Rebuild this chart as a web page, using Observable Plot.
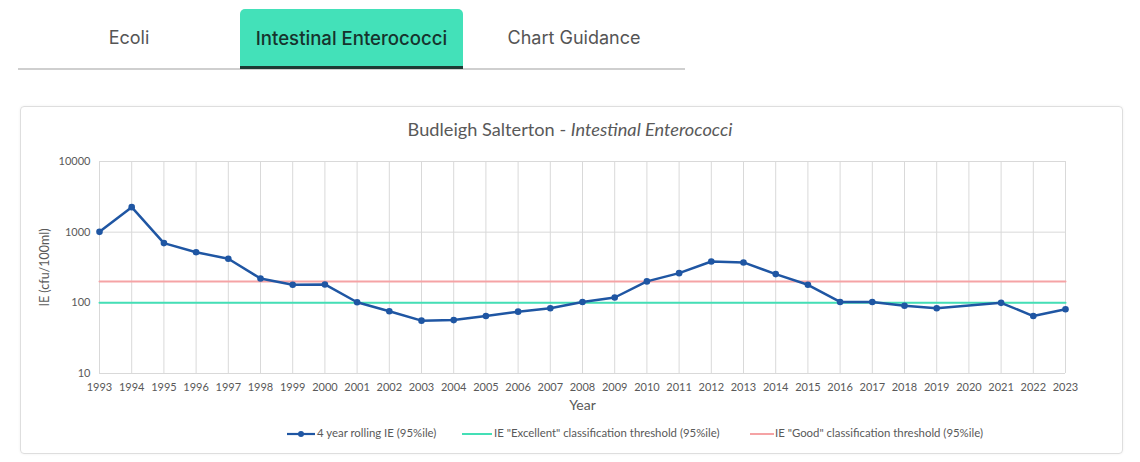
<!DOCTYPE html>
<html>
<head>
<meta charset="utf-8">
<script src="https://cdn.jsdelivr.net/npm/d3@7"></script>
<script src="https://cdn.jsdelivr.net/npm/@observablehq/plot@0.6"></script>
<style>
  html, body { margin: 0; padding: 0; background: #fff; width: 1140px; height: 462px; overflow: hidden; }
  body { position: relative; font-family: Inter, "Noto Sans", sans-serif; }
  .tabs { position: absolute; left: 18px; top: 9px; width: 667px; height: 59px; border-bottom: 2px solid #cfcfcf; }
  .tab { position: absolute; top: 0; height: 59px; line-height: 58px; font-size: 18px; color: #555; text-align: center; }
  .tab.active { background: #43e1b9; color: #16332d; font-weight: 500; font-size: 18.6px; border-radius: 5px 5px 0 0; border-bottom: 3px solid #1d3a34; height: 57px; }
  .card { position: absolute; left: 20px; top: 106px; width: 1101px; height: 346px; border: 1px solid #dedede; border-radius: 4px; box-shadow: 0 0 3px rgba(0,0,0,0.06); }
  .title { position: absolute; left: 0; top: 118px; width: 1140px; text-align: center; font-family: Lato, "Liberation Sans", sans-serif; font-size: 18.2px; color: #595959; }
  #chart { position: absolute; left: 0; top: 140px; }
  .legend { position: absolute; top: 426px; left: 0; width: 1140px; font-family: Lato, "Liberation Sans", sans-serif; font-size: 11.4px; color: #595959; }
  .legend span { position: absolute; top: 0; white-space: nowrap; }
  .legend svg { position: absolute; top: 4px; }
</style>
</head>
<body>
<div class="tabs">
  <div class="tab" style="left:66px;width:90px;">Ecoli</div>
  <div class="tab active" style="left:222px;width:223px;">Intestinal Enterococci</div>
  <div class="tab" style="left:462px;width:188px;">Chart Guidance</div>
</div>
<div class="card"></div>
<div class="title">Budleigh Salterton - <i>Intestinal Enterococci</i></div>
<div id="chart"></div>
<div class="legend">
  <svg width="28" height="8" style="left:287px"><line x1="0" y1="4" x2="28" y2="4" stroke="#1f56a3" stroke-width="2.2"/><circle cx="14" cy="4" r="3" fill="#1f56a3"/></svg>
  <span style="left:317px">4 year rolling IE (95%ile)</span>
  <svg width="30" height="8" style="left:462px"><line x1="0" y1="4" x2="30" y2="4" stroke="#44dfb6" stroke-width="2"/></svg>
  <span style="left:494px">IE "Excellent" classification threshold (95%ile)</span>
  <svg width="24" height="8" style="left:750px"><line x1="0" y1="4" x2="24" y2="4" stroke="#f5a3a5" stroke-width="2"/></svg>
  <span style="left:775px">IE "Good" classification threshold (95%ile)</span>
</div>
<script>
// Bathing water site: 4-year rolling 95th percentile of Intestinal Enterococci (cfu/100ml)
const years = [1993, 1994, 1995, 1996, 1997, 1998, 1999, 2000, 2001, 2002,
               2003, 2004, 2005, 2006, 2007, 2008, 2009, 2010, 2011, 2012,
               2013, 2014, 2015, 2016, 2017, 2018, 2019, 2020, 2021, 2022, 2023];
const rollingIE = [1010, 2260, 700, 521, 420, 221, 180, 182, 102, 76,
                   56, 57, 65, 75, 84, 103, 119, 201, 263, 385,
                   373, 255, 180, 103, 103, 91, 84, null, 100, 65, 81];
const excellentThreshold = 100;
const goodThreshold = 200;
const yTicks = [10, 100, 1000, 10000];

const series = years.map((year, i) => ({year, value: rollingIE[i]})).filter(d => d.value != null);
const thresholds = years.map(year => ({year, excellent: excellentThreshold, good: goodThreshold}));

const blue = "#1f56a3", teal = "#44dfb6", pink = "#f5a3a5", grid = "#d9d9d9", text = "#595959";

const chart = Plot.plot({
  width: 1140,
  height: 280,
  marginTop: 21,
  marginBottom: 47,
  marginLeft: 99,
  marginRight: 75,
  style: {fontFamily: "Lato, 'Liberation Sans', sans-serif", fontSize: "11px", color: text, background: "transparent"},
  x: {domain: [1993, 2023], ticks: years, tickFormat: d3.format("d"), tickSize: 0, tickPadding: 10, label: null},
  y: {type: "log", domain: [10, 10000], ticks: yTicks, tickFormat: d3.format("d"), tickSize: 0, tickPadding: 9, label: null},
  marks: [
    Plot.gridX(years, {stroke: grid, strokeOpacity: 1, strokeWidth: 1}),
    Plot.gridY(yTicks, {stroke: grid, strokeOpacity: 1, strokeWidth: 1}),
    Plot.axisX({ticks: years, tickFormat: d3.format("d"), tickSize: 0, tickPadding: 10, fill: text, label: null}),
    Plot.axisY({ticks: yTicks, tickFormat: d3.format("d"), tickSize: 0, tickPadding: 9, fill: text, label: null}),
    Plot.text(["Year"], {frameAnchor: "bottom", dy: 36, fontSize: 14, fill: text}),
    Plot.text(["IE (cfu/100ml)"], {frameAnchor: "left", textAnchor: "middle", dx: -55, rotate: -90, fontSize: 12.5, fill: text}),
    Plot.lineY(thresholds, {x: "year", y: "excellent", stroke: teal, strokeWidth: 2}),
    Plot.lineY(thresholds, {x: "year", y: "good", stroke: pink, strokeWidth: 2}),
    Plot.lineY(series, {x: "year", y: "value", stroke: blue, strokeWidth: 2.5}),
    Plot.dot(series, {x: "year", y: "value", fill: blue, r: 3.3})
  ]
});
document.getElementById("chart").appendChild(chart);
</script>
</body>
</html>
